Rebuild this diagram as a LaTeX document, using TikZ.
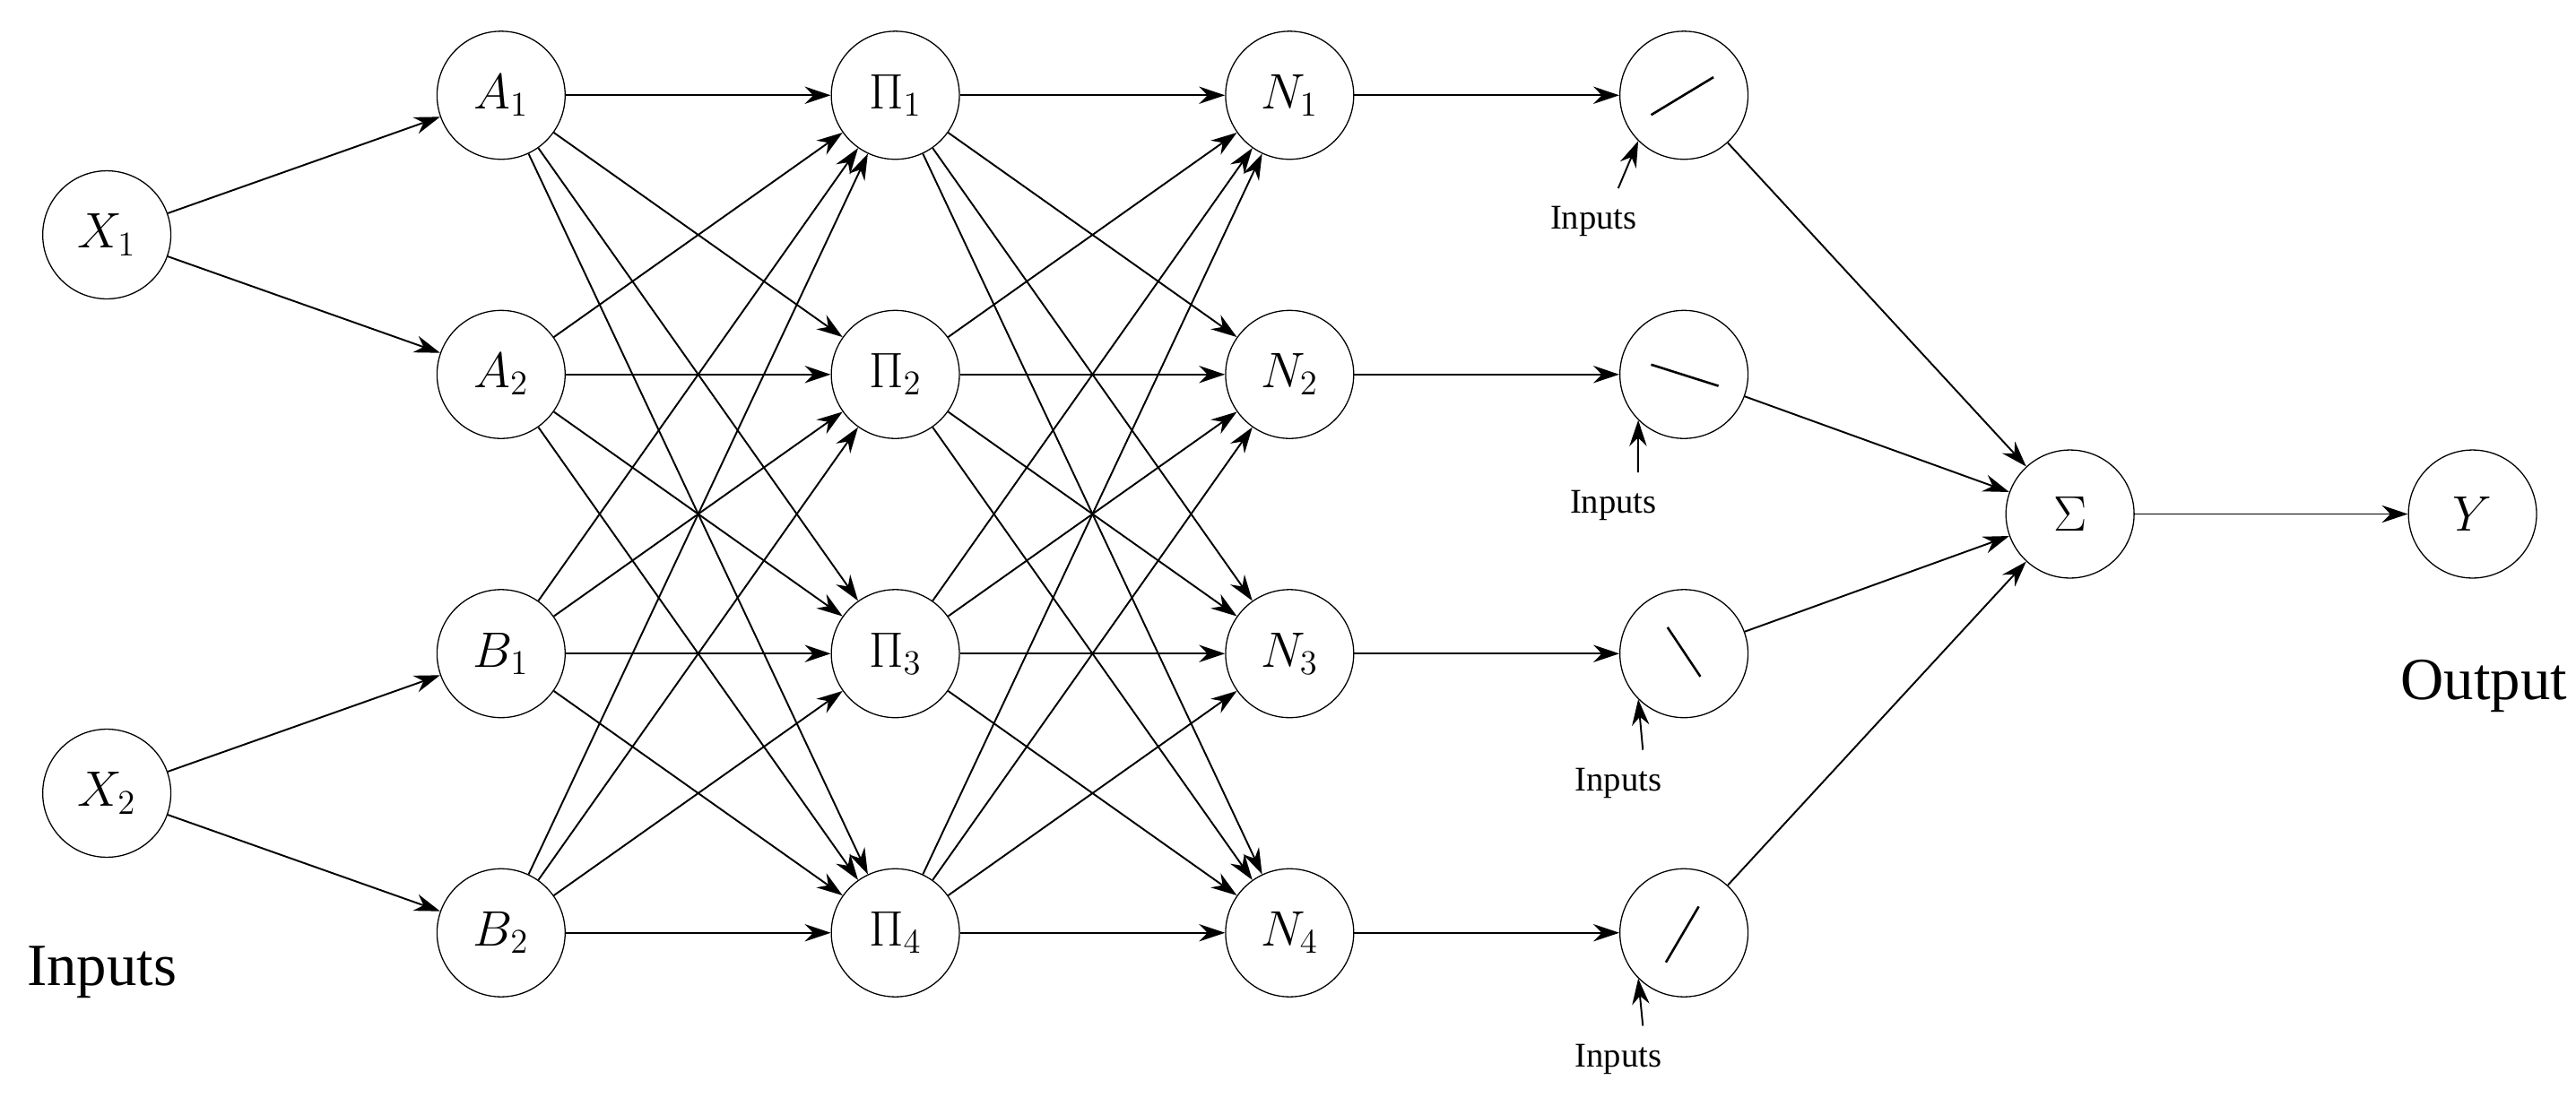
\documentclass[tikz,border=0pt]{standalone}
\usepackage{amsmath}
\usepackage{fontspec}
\setmainfont{Liberation Serif}
\usetikzlibrary{arrows.meta}

\tikzset{
  neuron/.style={circle,draw,minimum size=1.56cm,inner sep=0pt,font=\LARGE},
  conn/.style={-{Stealth[length=9pt,width=6pt]},line width=0.6pt},
}

\begin{document}
\begin{tikzpicture}[x=0.02cm,y=-0.02cm]
    \useasboundingbox (0,0) rectangle (1568,673);
    % input layer
    \node[neuron] (x1) at (65,143) {$X_1$};
    \node[neuron] (x2) at (65,483) {$X_2$};
    % membership layer
    \node[neuron] (a1) at (305,58) {$A_1$};
    \node[neuron] (a2) at (305,228) {$A_2$};
    \node[neuron] (b1) at (305,398) {$B_1$};
    \node[neuron] (b2) at (305,568) {$B_2$};
    % rule, normalisation and consequent layers
    \foreach \i/\y in {1/58,2/228,3/398,4/568} {
        \node[neuron] (p\i) at (545,\y) {$\Pi_\i$};
        \node[neuron] (n\i) at (785,\y) {$N_\i$};
        \node[neuron] (f\i) at (1025,\y) {};
    }
    \node[neuron] (s) at (1260,313) {$\Sigma$};
    \node[neuron] (y) at (1505,313) {$Y$};
    % slopes inside consequent nodes
    \draw[line width=0.8pt] (1005,70) -- (1043,47);
    \draw[line width=0.8pt] (1005,222) -- (1046,235);
    \draw[line width=0.8pt] (1015,382) -- (1035,412);
    \draw[line width=0.8pt] (1014,586) -- (1034,552);
    % connections
    \draw[conn] (x1) -- (a1);
    \draw[conn] (x1) -- (a2);
    \draw[conn] (x2) -- (b1);
    \draw[conn] (x2) -- (b2);
    \foreach \m in {a1,a2,b1,b2}
        \foreach \j in {1,...,4}
            \draw[conn] (\m) -- (p\j);
    \foreach \i in {1,...,4} {
        \foreach \j in {1,...,4}
            \draw[conn] (p\i) -- (n\j);
        \draw[conn] (n\i) -- (f\i);
        \draw[conn] (f\i) -- (s);
    }
    \draw[conn] (s) -- (y);
    % labels
    \foreach \i/\lx/\ly in {1/970/135,2/982/308,3/985/477,4/985/645} {
        \node[font=\large] (in\i) at (\lx,\ly) {Inputs};
        \coordinate (c\i) at ([xshift=0.3cm,yshift=0.1cm]in\i.north);
        \draw[conn] (c\i) -- (f\i.south west);
    }
    \node[font=\huge] (inputs) at (62,592) {Inputs};
    \node[font=\huge] (output) at (1512,418) {Output};
\end{tikzpicture}
\end{document}
